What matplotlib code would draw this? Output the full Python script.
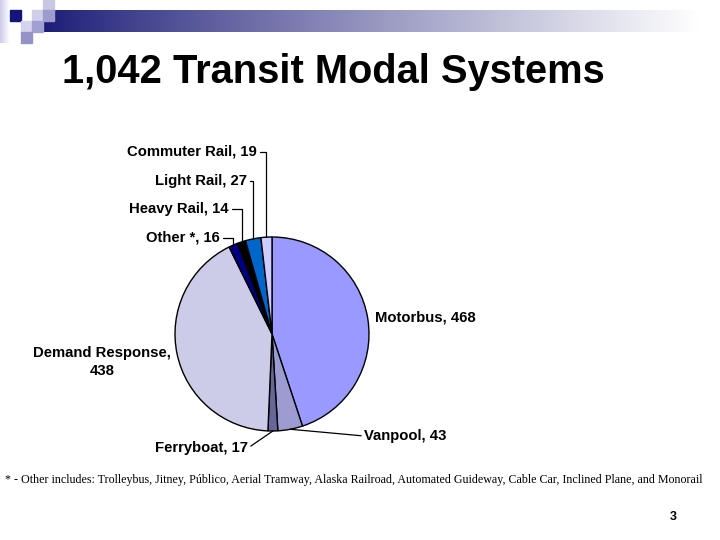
import matplotlib
matplotlib.use("Agg")
import matplotlib.pyplot as plt
from matplotlib.patches import Rectangle
import numpy as np

# Donnees du camembert
modes = ["Motorbus", "Vanpool", "Ferryboat", "Demand Response",
         "Other *", "Heavy Rail", "Light Rail", "Commuter Rail"]
nombres = [468, 43, 17, 438, 16, 14, 27, 19]
couleurs = ["#9999FF", "#9C9CD2", "#666699", "#CCCCE8",
            "#000080", "#000000", "#0066CC", "#CCCCFF"]

titre = "1,042 Transit Modal Systems"
note = ("* - Other includes: Trolleybus, Jitney, Público, Aerial Tramway, Alaska Railroad, "
        "Automated Guideway, Cable Car, Inclined Plane, and Monorail")

H = 540  # hauteur en pixels, pour passer des coordonnees "ecran" aux donnees

fig = plt.figure(figsize=(7.2, 5.4), dpi=100)
ax = fig.add_axes([0, 0, 1, 1])

# Bandeau degrade en haut
grad = np.linspace(0, 1, 256) ** 0.9
debut = np.array([0.11, 0.11, 0.47])
rgb = debut[None, :] * (1 - grad[:, None]) + grad[:, None]
ax.imshow(rgb[None, :, :], extent=[43, 700, H - 32, H - 10], aspect="auto", zorder=1)

# Petits carres decoratifs
strip = np.linspace(0, 1, 64)
strip_rgb = np.stack([0.80 + 0.2 * strip, 0.80 + 0.2 * strip, 0.92 + 0.08 * strip], axis=1)
ax.imshow(strip_rgb[None, :, :], extent=[0, 10, H - 43, H], aspect="auto", zorder=1)
carres = [(10, 10, "#14147A"), (32, 10, "#CFCFEA"), (43, 0, "#C8C8E2"),
          (43, 10, "#9C9CCE"), (21, 21, "#D4D4EE"), (32, 21, "#A0A0D2"),
          (21, 32, "#9393C8")]
for x, y, c in carres:
    ax.add_patch(Rectangle((x, H - y - 11), 11, 11, color=c, zorder=2))

# Titre
ax.text(62, H - 83, titre, fontsize=28.7, fontweight="bold", va="baseline",
        family=["Liberation Sans", "DejaVu Sans"])

# Camembert
cx, cy, r = 272, H - 334, 97
wedges, _ = ax.pie(nombres, colors=couleurs, startangle=90, counterclock=False,
                   center=(cx, cy), radius=r,
                   wedgeprops=dict(edgecolor="black", linewidth=1.0))

# point sur le bord de chaque part
def bord(i):
    w = wedges[i]
    a = np.deg2rad((w.theta1 + w.theta2) / 2)
    return cx + r * np.cos(a), cy + r * np.sin(a)

police = dict(fontsize=10.7, fontweight="bold", family=["Liberation Sans", "DejaVu Sans"])
coude = dict(arrowstyle="-", connectionstyle="angle,angleA=0,angleB=90,rad=0",
             shrinkA=0, shrinkB=0, lw=0.9, relpos=(1, 0.5))
droit = dict(arrowstyle="-", shrinkA=0, shrinkB=0, lw=0.9)

def etiquette(i):
    return "%s, %d" % (modes[i], nombres[i])

ax.text(375, H - 318, etiquette(0), ha="left", va="center", **police)
ax.annotate(etiquette(1), xy=bord(1), xytext=(364, H - 436), ha="left", va="center",
            arrowprops=dict(droit, relpos=(0, 0.5)), **police)
ax.annotate(etiquette(2), xy=bord(2), xytext=(248, H - 448), ha="right", va="center",
            arrowprops=dict(droit, relpos=(1, 0.5)), **police)
ax.text(102, H - 362, "Demand Response,\n438", ha="center", va="center",
        linespacing=1.4, **police)
hauteurs = {4: (220, 238), 5: (229, 209), 6: (247, 181), 7: (257, 152)}
for i, (xt, yt) in hauteurs.items():
    ax.annotate(etiquette(i), xy=bord(i), xytext=(xt, H - yt), ha="right", va="center",
                arrowprops=coude, **police)

# Note de bas de page et numero de page
ax.text(5, H - 480, note, fontsize=8.65, va="center", family=["Liberation Serif", "DejaVu Serif"])
ax.text(673, H - 517, "3", fontsize=9, fontweight="bold", va="center", ha="center",
        family=["Liberation Sans", "DejaVu Sans"])

ax.set_xlim(0, 720)
ax.set_ylim(0, H)
ax.set_aspect("auto")
ax.axis("off")

fig.savefig("out.png", dpi=100)
